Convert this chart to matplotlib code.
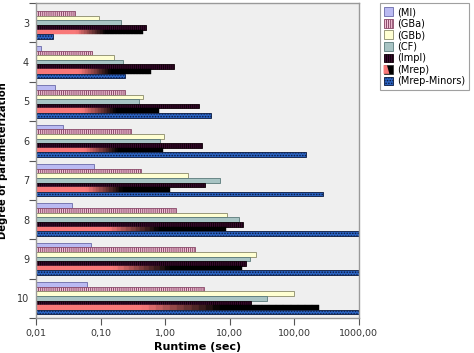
import numpy as np
import matplotlib
matplotlib.use('Agg')
import matplotlib.pyplot as plt
from matplotlib import patches
from matplotlib.legend_handler import HandlerBase
from matplotlib.colors import to_rgb

# runtimes in seconds
degrees = [3, 4, 5, 6, 7, 8, 9, 10]
mi = [np.nan, 0.012, 0.020, 0.026, 0.078, 0.0365, 0.070, 0.061]
gba = [0.040, 0.074, 0.239, 0.30, 0.43, 1.47, 2.89, 3.99]
gbb = [0.093, 0.159, 0.453, 0.95, 2.28, 9.06, 25.1, 97.6]
cf = [0.207, 0.22, 0.39, 0.83, 7.05, 13.9, 20.6, 37.2]
impl = [0.50, 1.35, 3.38, 3.67, 4.08, 16.2, 18.2, 21.7]
mrep = [0.45, 0.61, 0.81, 0.92, 1.17, 8.63, 15.5, 240.0]
mrep_minors = [0.018, 0.236, 5.1, 151.0, 276.0, 1000.0, 1000.0, 1000.0]
names = ['(MI)', '(GBa)', '(GBb)', '(CF)', '(Impl)', '(Mrep)', '(Mrep-Minors)']
xticks = [0.01, 0.1, 1, 10, 100, 1000]
xticklabels = ['0,01', '0,10', '1,00', '10,00', '100,00', '1000,00']

plt.rcParams['hatch.linewidth'] = 0.7
fig = plt.figure(figsize=(4.74, 3.53), dpi=100)
ax = fig.add_axes([0.076, 0.099, 0.681, 0.8925])
ax.set_facecolor('#efefef')
ax.set_xscale('log')
x0 = 0.01
h = 0.117
y = np.array(degrees, dtype=float)

styles = [
    dict(facecolor='#babaf2', edgecolor='#6a6aa8'),
    dict(facecolor='#f4c4d8', edgecolor='#8a4a6a', hatch='||||||||'),
    dict(facecolor='#ffffd2', edgecolor='#8a8a6a'),
    dict(facecolor='#a8c4c4', edgecolor='#5a7a7a'),
    dict(facecolor='#3a0a30', edgecolor='#100008', hatch='||||||||'),
    None,
    dict(facecolor='#2a62c0', edgecolor='#0a1a40', hatch='......'),
]
series = [mi, gba, gbb, cf, impl, mrep, mrep_minors]

for i, (vals, st) in enumerate(zip(series, styles)):
    yy = y + (i - 3) * h
    v = np.array(vals, dtype=float)
    if st is not None:
        ax.barh(yy, v - x0, left=x0, height=h, linewidth=0.6, **st)
    else:
        # salmon-to-black gradient along each bar (log space)
        c0 = np.array(to_rgb('#f87878'))
        c1 = np.array(to_rgb('#000000'))
        n = 40
        for yc, val in zip(yy, v):
            edges = x0 * (val / x0) ** (np.arange(n + 1) / n)
            for k in range(n):
                f = (k + 0.5) / n
                t = np.clip((f - 0.38) / 0.27, 0, 1)
                col = c0 * (1 - t) + c1 * t
                ax.barh(yc, edges[k + 1] - edges[k], left=edges[k], height=h,
                        color=col, edgecolor=col, linewidth=0.3)

ax.set_xlim(0.01, 1000)
ax.set_ylim(10.5, 2.5)
ax.set_xticks(xticks)
ax.set_xticklabels(xticklabels)
ax.xaxis.set_minor_locator(matplotlib.ticker.NullLocator())
ax.set_yticks(np.arange(2.5, 11, 1.0))
ax.set_yticklabels([])
ax.set_yticks(degrees, minor=True)
ax.set_yticklabels([str(d) for d in degrees], minor=True)
ax.tick_params(axis='y', which='minor', length=0, pad=5, labelsize=7, labelcolor='#333333')
ax.tick_params(axis='y', which='major', length=5, color='#555555', direction='out')
ax.tick_params(axis='x', length=5, color='#555555', labelsize=6.8, labelcolor='#333333', pad=3)
for s in ax.spines.values():
    s.set_color('#999999')
    s.set_linewidth(1.0)
ax.set_xlabel('Runtime (sec)', fontsize=8, fontweight='bold', labelpad=3)
ax.set_ylabel('Degree of parameterization', fontsize=7.2, fontweight='bold', labelpad=6)


class MrepHandler(HandlerBase):
    def create_artists(self, legend, orig_handle, xd, yd, width, height, fontsize, trans):
        bg = patches.Rectangle((-xd, -yd), width, height, facecolor='#000000',
                               edgecolor='#333333', lw=0.6, transform=trans)
        tri = patches.Polygon([(-xd, -yd), (-xd + width * 0.6, -yd),
                               (-xd + width * 0.35, -yd + height), (-xd, -yd + height)],
                              closed=True, facecolor='#f87878', lw=0, transform=trans)
        return [bg, tri]


legend_handles = []
for st in styles:
    if st is None:
        legend_handles.append(patches.Rectangle((0, 0), 1, 1))
    else:
        legend_handles.append(patches.Rectangle((0, 0), 1, 1, linewidth=0.6, **st))
leg = fig.legend(legend_handles, names, loc='upper left', bbox_to_anchor=(0.801, 0.991),
                 fontsize=7, handlelength=1.0, handleheight=1.0, handletextpad=0.4,
                 labelspacing=0.16, borderpad=0.4, borderaxespad=0, fancybox=False,
                 handler_map={legend_handles[5]: MrepHandler()})
leg.get_frame().set_edgecolor('#888888')
leg.get_frame().set_linewidth(0.8)

fig.savefig('out.png', dpi=100)
